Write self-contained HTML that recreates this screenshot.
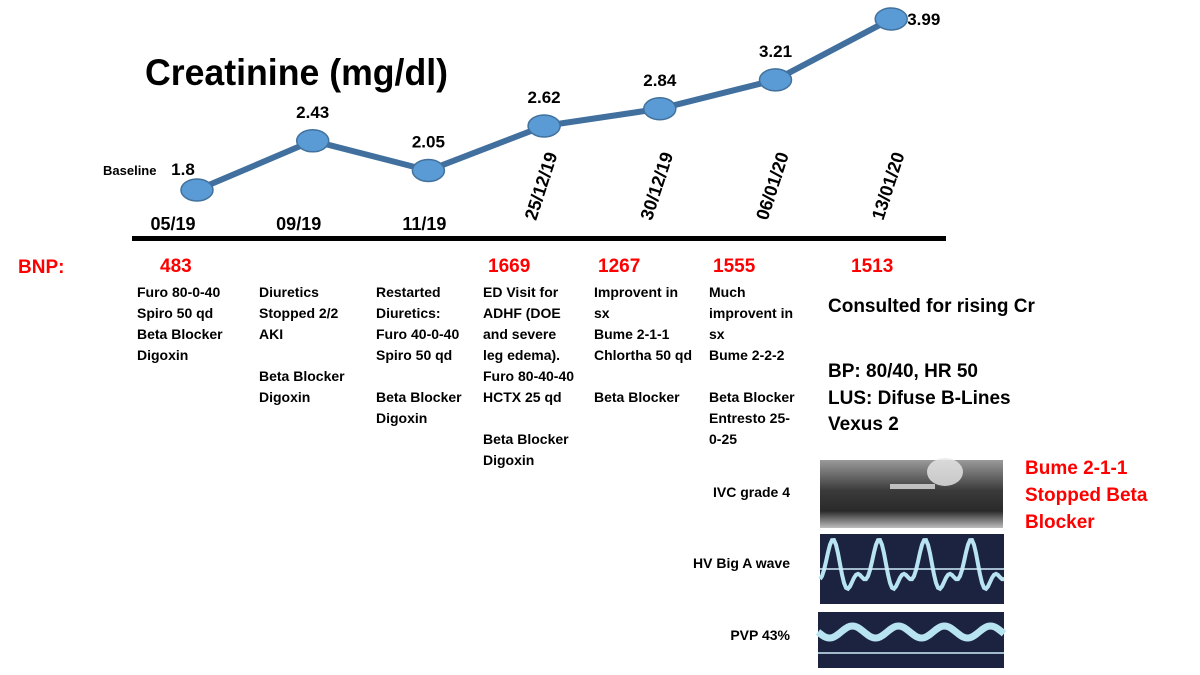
<!DOCTYPE html>
<html><head><meta charset="utf-8"><style>
body{margin:0;background:#fff;}
#root{position:relative;width:1200px;height:675px;overflow:hidden;background:#fff;font-family:"Liberation Sans",sans-serif;font-weight:bold;color:#000;}
.col{position:absolute;top:282px;font-size:14px;line-height:21px;white-space:nowrap;}
.bnp{position:absolute;top:256px;font-size:19px;color:#f00;}
.big{position:absolute;font-size:19px;white-space:nowrap;}
.red{color:#f00;}
.lab{position:absolute;font-size:14px;text-align:right;width:200px;}
</style></head><body>
<div id="root">
<svg id="chart" width="1200" height="260" style="position:absolute;left:0;top:0">
  <text x="145" y="85" font-size="37" font-family="Liberation Sans, sans-serif" textLength="303" lengthAdjust="spacingAndGlyphs">Creatinine (mg/dl)</text>
  <text x="103" y="175" font-size="13" font-weight="bold" font-family="Liberation Sans, sans-serif">Baseline</text>
  <rect x="132" y="236" width="814" height="5" fill="#000"></rect>
  <g id="marks"></g>
</svg>

<div class="bnp" style="left:18px;top:257px">BNP:</div>
<div class="bnp" style="left:160px">483</div>
<div class="bnp" style="left:488px">1669</div>
<div class="bnp" style="left:598px">1267</div>
<div class="bnp" style="left:713px">1555</div>
<div class="bnp" style="left:851px">1513</div>

<div class="col" style="left:137px">Furo 80-0-40<br>Spiro 50 qd<br>Beta Blocker<br>Digoxin</div>
<div class="col" style="left:259px">Diuretics<br>Stopped 2/2<br>AKI<br><br>Beta Blocker<br>Digoxin</div>
<div class="col" style="left:376px">Restarted<br>Diuretics:<br>Furo 40-0-40<br>Spiro 50 qd<br><br>Beta Blocker<br>Digoxin</div>
<div class="col" style="left:483px">ED Visit for<br>ADHF (DOE<br>and severe<br>leg edema).<br>Furo 80-40-40<br>HCTX 25 qd<br><br>Beta Blocker<br>Digoxin</div>
<div class="col" style="left:594px">Improvent in<br>sx<br>Bume 2-1-1<br>Chlortha 50 qd<br><br>Beta Blocker</div>
<div class="col" style="left:709px">Much<br>improvent in<br>sx<br>Bume 2-2-2<br><br>Beta Blocker<br>Entresto 25-<br>0-25</div>

<div class="big" style="left:828px;top:296px">Consulted for rising Cr</div>
<div class="big" style="left:828px;top:359px;line-height:26.5px">BP: 80/40, HR 50<br>LUS: Difuse B-Lines<br>Vexus 2</div>
<div class="big red" style="left:1025px;top:455px;line-height:27px">Bume 2-1-1<br>Stopped Beta<br>Blocker</div>

<div class="lab" style="left:590px;top:484px">IVC grade 4</div>
<div class="lab" style="left:590px;top:555px">HV Big A wave</div>
<div class="lab" style="left:590px;top:627px">PVP 43%</div>

<svg width="1200" height="675" style="position:absolute;left:0;top:0">
  <defs>
    <linearGradient id="ivcg" x1="0" y1="0" x2="0" y2="1">
      <stop offset="0" stop-color="#9a9a9a"/><stop offset="0.45" stop-color="#3a3a3a"/><stop offset="0.75" stop-color="#2a2a2a"/><stop offset="1" stop-color="#bdbdbd"/>
    </linearGradient>
  </defs>
  <g>
    <rect x="820" y="460" width="183" height="68" fill="url(#ivcg)"/>
    <ellipse cx="945" cy="472" rx="18" ry="14" fill="#e8e8e8" opacity="0.8"/>
    <rect x="890" y="484" width="45" height="5" fill="#ddd" opacity="0.8"/>
  </g>
  <g>
    <rect x="820" y="534" width="184" height="70" fill="#1c2340"/>
    <path id="hvw" fill="none" stroke="#b8e4f2" stroke-width="4" d=""/>
    <line x1="820" y1="569" x2="1004" y2="569" stroke="#cfeefa" stroke-width="1.5"/>
  </g>
  <g>
    <rect x="818" y="612" width="186" height="56" fill="#1c2340"/>
    <path id="pvw" fill="none" stroke="#b8e4f2" stroke-width="7" d=""/>
    <line x1="818" y1="653" x2="1004" y2="653" stroke="#cfeefa" stroke-width="1.5"/>
  </g>
</svg>
</div>
<script>
const dates = ["05/19","09/19","11/19","25/12/19","30/12/19","06/01/20","13/01/20"];
const creatinine = [1.8, 2.43, 2.05, 2.62, 2.84, 3.21, 3.99];
const valueLabels = ["1.8","2.43","2.05","2.62","2.84","3.21","3.99"];
const rotatedDate = [false,false,false,true,true,true,true];

const NS = "http://www.w3.org/2000/svg";
function xScale(i){ return 197 + i * 115.7; }
function yScale(v){ return 190 - (v - 1.8) * 78.1; }
const g = document.getElementById('marks');
let d = "";
creatinine.forEach((v,i)=>{ d += (i?"L":"M") + xScale(i) + " " + yScale(v) + " "; });
const line = document.createElementNS(NS,'path');
line.setAttribute('d', d);
line.setAttribute('fill','none');
line.setAttribute('stroke','#41709f');
line.setAttribute('stroke-width','6');


g.appendChild(line);
creatinine.forEach((v,i)=>{
  const x = xScale(i), y = yScale(v);
  const e = document.createElementNS(NS,'ellipse');
  e.setAttribute('cx',x); e.setAttribute('cy',y); e.setAttribute('rx',16); e.setAttribute('ry',11);
  e.setAttribute('fill','#5b9bd5'); e.setAttribute('stroke','#41719c'); e.setAttribute('stroke-width','1.5');
  
  
  g.appendChild(e);
  const t = document.createElementNS(NS,'text');
  let tx = x, ty = y - 23, anchor = 'middle';
  if (i === 0) { tx = x - 14; ty = y - 15; }
  if (i === creatinine.length - 1) { tx = x + 16; ty = y + 6; anchor = 'start'; }
  t.setAttribute('x',tx); t.setAttribute('y',ty); t.setAttribute('text-anchor',anchor);
  t.setAttribute('font-size','17'); t.setAttribute('font-weight','bold');
  t.setAttribute('font-family','Liberation Sans, sans-serif');
  t.textContent = valueLabels[i];
  
  
  g.appendChild(t);
  const dl = document.createElementNS(NS,'text');
  dl.setAttribute('font-size','18'); dl.setAttribute('font-weight','bold');
  dl.setAttribute('font-family','Liberation Sans, sans-serif');
  dl.setAttribute('text-anchor','middle');
  if (rotatedDate[i]) {
    const cx = x - 3, cy = 186;
    dl.setAttribute('x', cx); dl.setAttribute('y', cy + 6);
    dl.setAttribute('transform','rotate(-72 '+cx+' '+cy+')');
  } else {
    dl.setAttribute('x', x - 24 + i * 10); dl.setAttribute('y', 230);
  }
  dl.textContent = dates[i];
  
  
  g.appendChild(dl);
});
// decorative doppler waveforms
let hv = "";
for (let x = 820; x <= 1004; x += 2) {
  const p = (x - 820) / 46 * 2 * Math.PI;
  const y = 569 - 18 * Math.sin(p) + 12 * Math.sin(2 * p + 1);
  hv += (x === 820 ? "M" : "L") + x + " " + y.toFixed(1) + " ";
}
document.getElementById('hvw').setAttribute('d', hv);
let pv = "";
for (let x = 818; x <= 1004; x += 2) {
  const y = 632 + 6 * Math.sin((x - 818) / 46 * 2 * Math.PI);
  pv += (x === 818 ? "M" : "L") + x + " " + y.toFixed(1) + " ";
}
document.getElementById('pvw').setAttribute('d', pv);
</script>
</body></html>
